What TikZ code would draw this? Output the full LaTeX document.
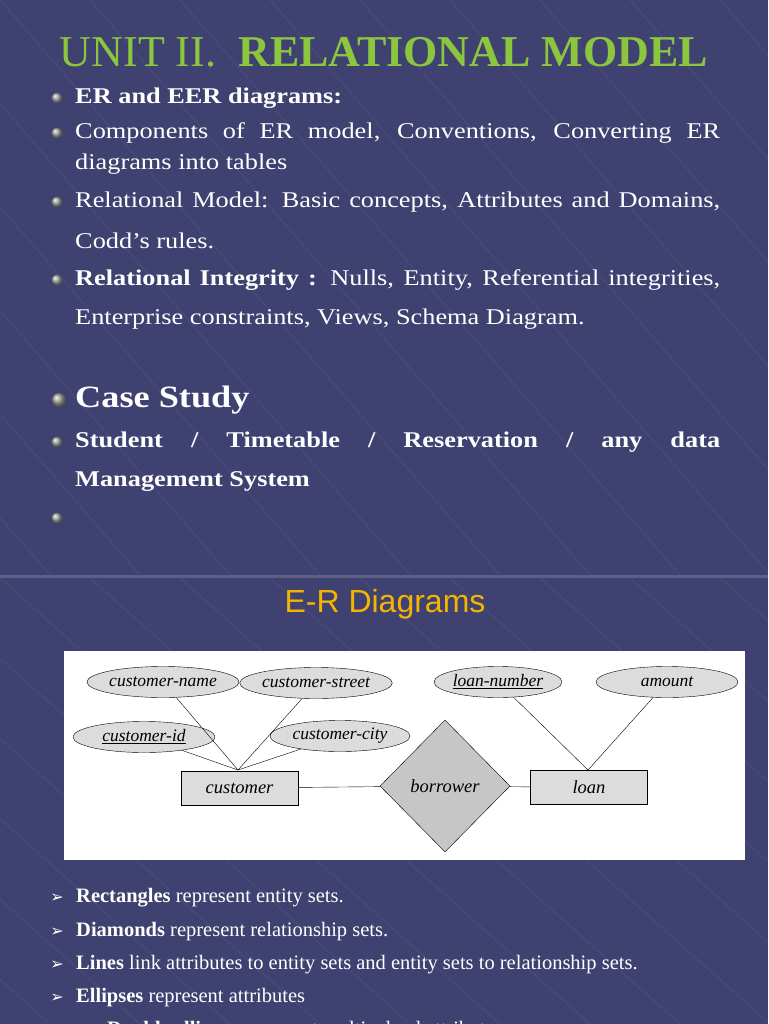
\documentclass[tikz,border=0pt]{standalone}
\usepackage{fontspec}
\setmainfont{Liberation Serif}
\newfontfamily\cambria[FakeStretch=1.17]{Liberation Serif}
\newfontfamily\sansf{Liberation Sans}
\newfontfamily\djv{DejaVu Sans}
\usetikzlibrary{shapes.geometric}
\definecolor{bgc}{HTML}{3F4271}
\definecolor{titleg}{HTML}{8CC63F}
\definecolor{orng}{HTML}{F5B400}
\definecolor{erfill}{HTML}{DCDCDC}
\begin{document}
\begin{tikzpicture}[x=1pt,y=-1pt,
  ball/.style={circle,inner sep=0pt,minimum size=11pt,ball color=gray!70!white},
  txt/.style={anchor=west,inner sep=0pt,text=white,font=\cambria\fontsize{22.5}{24}\selectfont},
  btxt/.style={anchor=west,inner sep=0pt,text=white,font=\fontsize{20.5}{22}\selectfont},
  arr/.style={anchor=center,inner sep=0pt,text=white,font=\djv\fontsize{16}{16}\selectfont},
  attr/.style={ellipse,draw,fill=erfill,inner sep=0pt,minimum height=31pt,font=\itshape\fontsize{17.5}{18}\selectfont},
  ent/.style={rectangle,draw,fill=erfill,minimum width=117pt,minimum height=34pt,font=\itshape\fontsize{18.5}{20}\selectfont},
  rel/.style={diamond,draw,fill=gray!45,minimum width=130pt,minimum height=132pt,inner sep=0pt,font=\itshape\fontsize{18.5}{20}\selectfont}]
\useasboundingbox (0,0) rectangle (768,1024);
\begin{scope}
\clip (0,0) rectangle (768,1024);
\fill[bgc] (0,0) rectangle (768,575);
\fill[bgc!85!white] (0,575) rectangle (768,578);
\fill[bgc] (0,578) rectangle (768,1024);
\foreach \i in {-6,...,12}{
  \draw[white,opacity=0.05,line width=1pt] (\i*90,0) -- (\i*90+500,575);
  \draw[white,opacity=0.05,line width=1pt] (\i*90,578) -- (\i*90+500,1024);}
\node[anchor=center,inner sep=0pt,text=titleg,font=\fontsize{44}{48}\selectfont] (title) at (384,52) {UNIT II.\hspace{22pt}\textbf{RELATIONAL MODEL}};
\foreach \y/\n in {98/b1,133/b2,202/b3,280/b4,442/b6,518/b7}{\node[ball] (\n) at (57,\y) {};}
\node[ball,minimum size=14pt] (b5) at (59,400) {};
\node[txt] (t1) at (75,98) {\textbf{ER and EER diagrams:}};
\node[txt] (t2) at (75,133) {\makebox[645pt][s]{Components of ER model, Conventions, Converting ER}};
\node[txt] (t2b) at (75,164) {diagrams into tables};
\node[txt] (t3) at (75,202) {\makebox[645pt][s]{Relational Model: Basic concepts, Attributes and Domains,}};
\node[txt] (t3b) at (75,241) {Codd’s rules.};
\node[txt] (t4) at (75,280) {\makebox[645pt][s]{\textbf{Relational Integrity :} Nulls, Entity, Referential integrities,}};
\node[txt] (t4b) at (75,319) {Enterprise constraints, Views, Schema Diagram.};
\node[txt,font=\cambria\bfseries\fontsize{31}{34}\selectfont] (t5) at (75,400) {Case Study};
\node[txt,font=\cambria\bfseries\fontsize{22.5}{24}\selectfont] (t6) at (75,442) {\makebox[645pt][s]{Student / Timetable / Reservation / any data}};
\node[txt,font=\cambria\bfseries\fontsize{22.5}{24}\selectfont] (t6b) at (75,482) {Management System};
\node[inner sep=0pt,text=orng,font=\sansf\fontsize{32}{36}\selectfont] (erh) at (385,604) {E-R Diagrams};
\fill[white] (64,651) rectangle (745,860);
\node[attr,minimum width=142pt] (cn) at (163,682) {customer-name};
\node[attr,minimum width=140pt] (cs) at (316,683) {customer-street};
\node[attr,minimum width=142pt] (ci) at (144,737) {\underline{customer-id}};
\node[attr,minimum width=140pt] (cc) at (340,736) {customer-city};
\node[attr,minimum width=123pt] (ln) at (498,682) {\underline{loan-number}};
\node[attr,minimum width=142pt] (am) at (667,682) {amount};
\node[ent] (cu) at (239.5,788) {customer};
\node[ent] (lo) at (589,787.5) {loan};
\node[rel] (bo) at (445,786) {borrower};
\coordinate (cp) at (238,770);
\coordinate (lp) at (588,770);
\draw (cn) -- (cp); \draw (cs) -- (cp); \draw (ci) -- (cp); \draw (cc) -- (cp);
\draw (ln) -- (lp); \draw (am) -- (lp);
\draw (cu) -- (bo); \draw (bo) -- (lo);
\foreach \y/\n in {898/a1,932/a2,965/a3,998/a4}{\node[arr] (\n) at (57,\y) {➢};}
\node[btxt] (r1) at (76,898) {\textbf{Rectangles} represent entity sets.};
\node[btxt] (r2) at (76,932) {\textbf{Diamonds} represent relationship sets.};
\node[btxt] (r3) at (76,965) {\textbf{Lines} link attributes to entity sets and entity sets to relationship sets.};
\node[btxt] (r4) at (76,998) {\textbf{Ellipses} represent attributes};
\node[arr] (a5) at (88,1031) {➢};
\node[btxt] (r5) at (107,1031) {\textbf{Double ellipses} represent multivalued attributes.};
\end{scope}
\end{tikzpicture}
\end{document}
